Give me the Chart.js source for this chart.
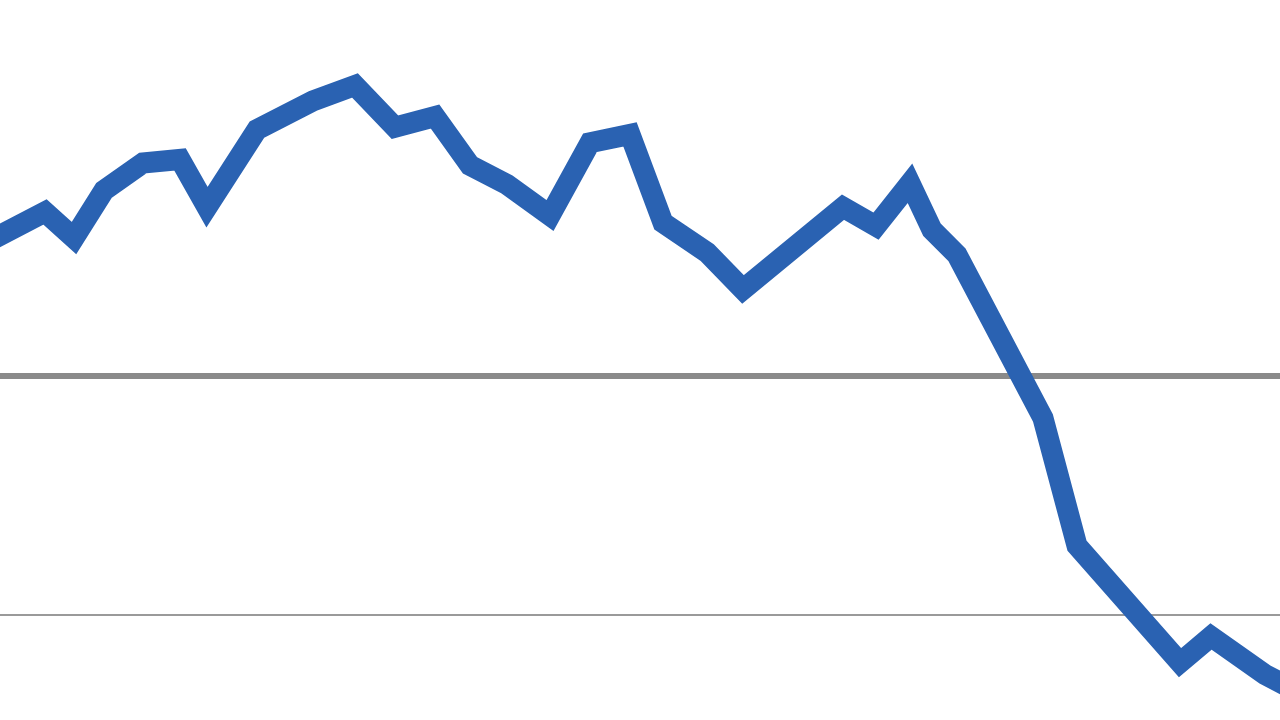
<!DOCTYPE html>
<html>
<head>
<meta charset="utf-8">
<script src="https://cdn.jsdelivr.net/npm/chart.js@4/dist/chart.umd.min.js"></script>
<style>
  html, body { margin: 0; padding: 0; background: #ffffff; overflow: hidden; }
  #wrap { width: 1280px; height: 720px; }
</style>
</head>
<body>
<div id="wrap"><canvas id="c" width="1280" height="720"></canvas></div>
<script>
// Time position of each observation (arbitrary index units)
const periods = [-1.2, 4.5, 7.4, 10.4, 14.3, 18.0, 20.7, 25.7, 31.3, 35.5, 39.5, 43.5, 47.0, 50.7, 55.0, 59.0, 63.0, 66.3, 70.7, 74.3, 84.3, 87.6, 91.0, 93.2, 95.7, 104.3, 107.7, 118.0, 121.1, 126.5, 129.5];
// Series values
const values = [1.13, 1.38, 1.16, 1.56, 1.79, 1.82, 1.42, 2.07, 2.31, 2.44, 2.09, 2.18, 1.77, 1.61, 1.35, 1.96, 2.03, 1.29, 1.04, 0.73, 1.42, 1.26, 1.62, 1.23, 1.02, -0.35, -1.42, -2.40, -2.18, -2.50, -2.63];
// Reference levels drawn as horizontal lines
const refLevels = [-2, 0];

const points = periods.map((p, i) => ({ x: p, y: values[i] }));

new Chart(document.getElementById('c'), {
  type: 'line',
  data: {
    datasets: [{
      data: points,
      borderColor: '#2a62b2',
      borderWidth: 21,
      borderJoinStyle: 'miter',
      borderCapStyle: 'butt',
      pointRadius: 0,
      tension: 0,
      fill: false
    }]
  },
  options: {
    responsive: false,
    animation: false,
    layout: { padding: 0 },
    plugins: { legend: { display: false }, tooltip: { enabled: false } },
    scales: {
      x: { type: 'linear', min: 0, max: 128, display: false },
      y: {
        type: 'linear',
        min: -2.881,
        max: 3.157,
        z: 1,
        afterBuildTicks: axis => { axis.ticks = refLevels.map(v => ({ value: v })); },
        ticks: { display: false },
        border: { display: false },
        grid: {
          drawTicks: false,
          color: ctx => ctx.tick && ctx.tick.value === 0 ? '#8a8a8a' : '#9a9a9a',
          lineWidth: ctx => ctx.tick && ctx.tick.value === 0 ? 6 : 2
        }
      }
    }
  }
});
</script>
</body>
</html>
